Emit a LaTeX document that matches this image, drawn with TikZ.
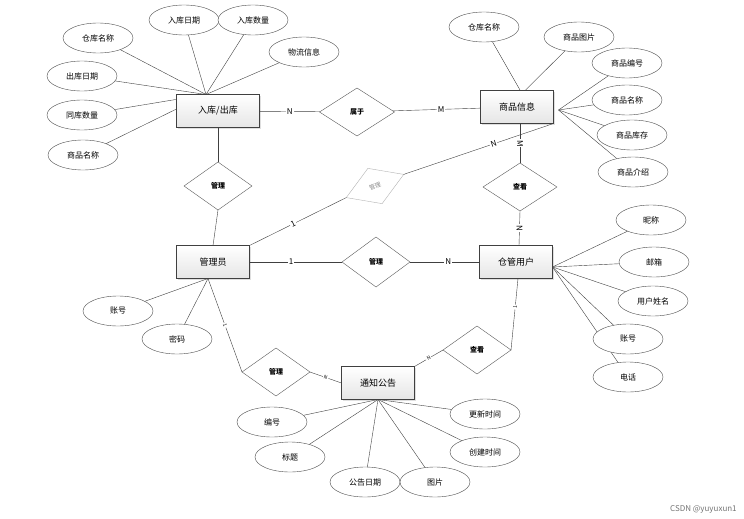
\documentclass[tikz,border=0pt]{standalone}
\usepackage{fontspec}
\setmainfont{Noto Sans CJK SC}
\usetikzlibrary{shapes.geometric,shadows,backgrounds}

\begin{document}
\begin{tikzpicture}[x=1pt,y=-1pt,every node/.style={outer sep=0pt},
 font=\fontsize{8}{9}\selectfont,
 entity/.style={draw=black!75,thick,top color=white,bottom color=black!10,
  drop shadow={opacity=0.25,shadow xshift=1.5pt,shadow yshift=-1.5pt},
  minimum width=73pt,minimum height=33pt,font=\fontsize{9}{10}\selectfont},
 rel/.style={diamond,draw=black!65,fill=white,aspect=1.45,inner sep=0pt,
  minimum width=68pt,minimum height=48pt,font=\fontsize{7}{8}\selectfont\bfseries},
 attr/.style={ellipse,draw=black!70,fill=white,inner sep=0pt,minimum width=70pt,minimum height=30pt},
 link/.style={draw=black!75},
 card/.style={fill=white,inner sep=1pt,font=\fontsize{8}{9}\selectfont}]

  \useasboundingbox (0,0) rectangle (744,519);

  % entities
  \node[entity,minimum width=83pt] (stock) at (218,111) {入库/出库};
  \node[entity] (goods) at (517,107) {商品信息};
  \node[entity] (admin) at (213,262) {管理员};
  \node[entity] (user) at (516,262) {仓管用户};
  \node[entity] (notice) at (378,383) {通知公告};

  % relations
  \node[rel,minimum width=75pt] (belong) at (357,112) {属于};
  \node[rel] (mstock) at (218,186) {管理};
  \node[rel,draw=black!30,rotate=22,text=black!45,font=\fontsize{6}{7}\selectfont,
   minimum width=62pt,minimum height=38pt] (mgoods) at (375,186) {管理};
  \node[rel,minimum width=74pt] (view) at (520,187) {查看};
  \node[rel,minimum height=50pt] (muser) at (376,262) {管理};
  \node[rel] (mnotice) at (276,372) {管理};
  \node[rel] (vnotice) at (477,350) {查看};

  \draw[link] (stock) -- node[card]{N} (belong) -- node[card,pos=0.55]{M} (goods);
  \draw[link] (stock.south) -- (mstock.north);
  \draw[link] (mstock.south) -- (admin.north);
  \draw[link] (admin.north east) -- node[card,sloped,pos=0.45]{1} (mgoods.west);
  \draw[link] (mgoods.east) -- node[card,sloped,pos=0.6]{N} (goods.south east);
  \draw[link] ([xshift=3pt]goods.south) -- node[card,rotate=-90]{M} (view.north);
  \draw[link] (view.south) -- node[card,rotate=-90]{N} ([xshift=3pt]user.north);
  \draw[link] (admin) -- node[card,pos=0.45]{1} (muser) -- node[card,pos=0.55]{N} (user);
  \draw[link] ([xshift=-5pt]admin.south) -- node[card,sloped,font=\tiny]{1} (mnotice.west);
  \draw[link] (mnotice.east) -- node[card,sloped,font=\tiny]{N} (notice.west);
  \draw[link] (notice.north east) -- node[card,sloped,font=\tiny]{N} (vnotice.west);
  \draw[link] (vnotice.east) -- node[card,sloped,font=\tiny,pos=0.6]{1} ([xshift=2pt]user.south);

  % attributes of stock
  \foreach \n/\t/\x/\y in {a1/仓库名称/98/38, a2/入库日期/184/20, a3/入库数量/253/20,
    a4/物流信息/304/52, a5/出库日期/82/76, a6/同库数量/82/115, a7/商品名称/83/155}
  {\node[attr] (\n) at (\x,\y) {\t};
   \begin{pgfonlayer}{background}
   \draw[link] (\n) -- ([xshift=-12pt]stock.north);
   \end{pgfonlayer}}

  % attributes of goods
  \foreach \n/\t/\x/\y/\a in {b1/仓库名称/484/27/north, b2/商品图片/579/37/north,
    b3/商品编号/627/63/east, b4/商品名称/627/100/east, b5/商品库存/632/135/east,
    b6/商品介绍/633/172/east}
  {\node[attr] (\n) at (\x,\y) {\t};
   \begin{pgfonlayer}{background}
   \draw[link] (\n) -- ([xshift=5pt,yshift=-3pt]goods.\a);
   \end{pgfonlayer}}

  % attributes of user
  \foreach \n/\t/\x/\y in {c1/昵称/651/220, c2/邮箱/654/262, c3/用户姓名/653/301,
    c4/账号/628/339, c5/电话/628/377}
  {\node[attr] (\n) at (\x,\y) {\t};
   \begin{pgfonlayer}{background}
   \draw[link] (\n) -- ([yshift=-5pt]user.east);
   \end{pgfonlayer}}

  % attributes of admin
  \foreach \n/\t/\x/\y in {d1/账号/118/311, d2/密码/177/339}
  {\node[attr] (\n) at (\x,\y) {\t};
   \begin{pgfonlayer}{background}
   \draw[link] (\n) -- ([xshift=-5pt]admin.south);
   \end{pgfonlayer}}

  % attributes of notice
  \foreach \n/\t/\x/\y in {e1/编号/272/422, e2/标题/290/457, e3/公告日期/365/482,
    e4/图片/435/482, e5/创建时间/485/452, e6/更新时间/485/414}
  {\node[attr] (\n) at (\x,\y) {\t};
   \begin{pgfonlayer}{background}
   \draw[link] (\n) -- (notice.south);
   \end{pgfonlayer}}

  \node[text=black!55,anchor=south east,font=\fontsize{8}{9}\selectfont] (wm) at (740,517) {CSDN @yuyuxun1};
\end{tikzpicture}
\end{document}
